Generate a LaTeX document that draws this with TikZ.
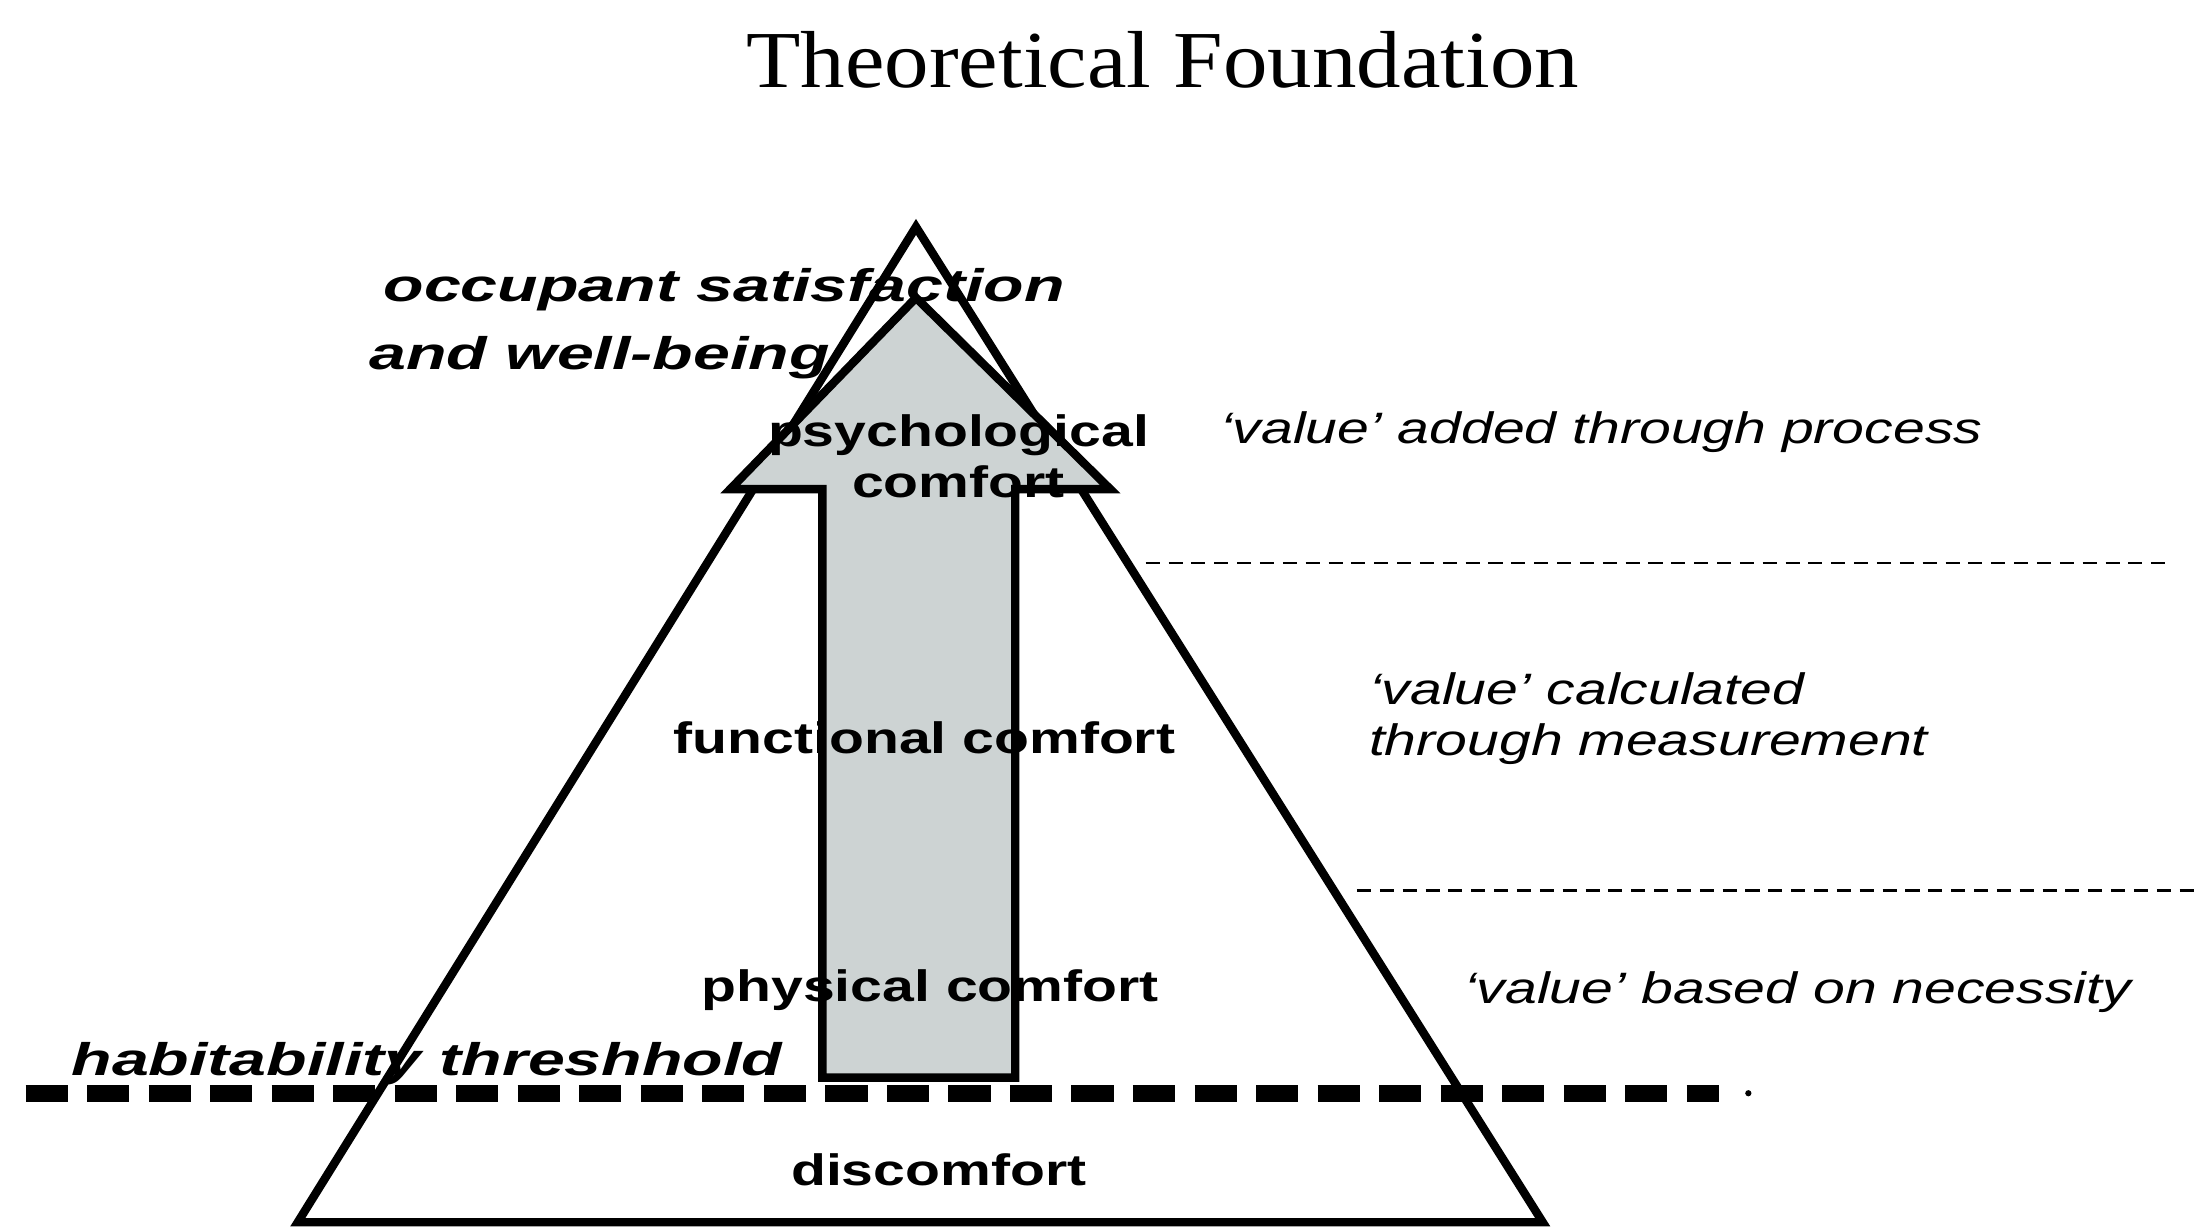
\documentclass[tikz,border=0pt]{standalone}
\usepackage{fontspec}
\newfontfamily\sansw[FakeStretch=1.3]{Liberation Sans}
\newfontfamily\sansbi[FakeStretch=1.45]{Liberation Sans}
\newfontfamily\serift[FakeStretch=1.1]{Liberation Serif}
\definecolor{arrowgrey}{HTML}{CDD3D3}
\begin{document}
\begin{tikzpicture}[x=0.01418cm,y=-0.01418cm,
  lbl/.style={font=\sansw\bfseries\fontsize{12.5}{14.5}\selectfont,align=center,inner sep=0},
  bi/.style={font=\sansbi\bfseries\itshape\fontsize{13}{15}\selectfont,anchor=west,inner sep=0},
  val/.style={font=\sansw\itshape\fontsize{12.5}{14.5}\selectfont,anchor=west,align=left,inner sep=0}]
\useasboundingbox (0,0) rectangle (1560,868);
\node[font=\serift\fontsize{23}{27}\selectfont] (title) at (820,42) {Theoretical Foundation};
\node[bi] (occ) at (270,204) {occupant satisfaction};
\node[bi] (well) at (260,252) {and well-being};
\node[bi] (hab) at (50,750) {habitability threshhold};
% triangle
\coordinate (apex) at (646,160);
\coordinate (bl) at (210,862);
\coordinate (br) at (1088,862);
\draw[line width=2.4pt,line join=miter] (apex) -- (bl) -- (br) -- cycle;
% arrow
\coordinate (a1) at (580,760); \coordinate (a2) at (580,345); \coordinate (a3) at (515,345);
\coordinate (tip) at (646,210); \coordinate (a4) at (783,345); \coordinate (a5) at (716,345);
\coordinate (a6) at (716,760);
\fill[arrowgrey] (a1)--(a2)--(a3)--(tip)--(a4)--(a5)--(a6)--cycle;
\node[lbl] (psy) at (676,322) {psychological\\comfort};
\node[lbl] (fun) at (652,520) {functional comfort};
\node[lbl] (phy) at (656,698) {physical comfort};
\node[lbl] (dis) at (662,825) {discomfort};
\draw[line width=2.4pt,line join=miter] (a1)--(a2)--(a3)--(tip)--(a4)--(a5)--(a6)--cycle;
% dashed lines
\coordinate (h1) at (18,771); \coordinate (h2) at (1212,771);
\draw[line width=4.8pt,dash pattern=on 12pt off 5.5pt] (h1) -- (h2);
\fill (1233,771) circle (2.2);
\coordinate (d1) at (808,397); \coordinate (d2) at (1530,397);
\draw[line width=0.7pt,dash pattern=on 4pt off 2.5pt] (d1) -- (d2);
\coordinate (e1) at (957,628); \coordinate (e2) at (1550,628);
\draw[line width=0.7pt,dash pattern=on 4pt off 2.5pt] (e1) -- (e2);
\node[val] (v1) at (860,305) {‘value’ added through process};
\node[val] (v2) at (965,507) {‘value’ calculated\\through measurement};
\node[val] (v3) at (1032,700) {‘value’ based on necessity};
\end{tikzpicture}
\end{document}
